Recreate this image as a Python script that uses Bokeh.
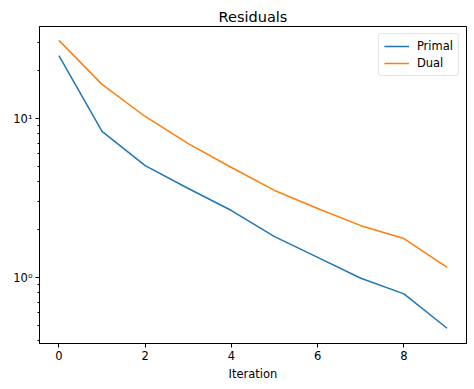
from bokeh.plotting import figure
from bokeh.models import FixedTicker, Legend, LegendItem, Range1d
from bokeh.embed import file_html
from bokeh.resources import INLINE

iterations = [0, 1, 2, 3, 4, 5, 6, 7, 8, 9]
primal = [24.9, 8.3, 5.06, 3.63, 2.64, 1.81, 1.34, 0.99, 0.79, 0.48]
dual = [31.0, 16.4, 10.3, 6.96, 4.92, 3.53, 2.72, 2.12, 1.76, 1.16]
x_ticks = [0, 2, 4, 6, 8]
y_ticks = [1, 10]
y_tick_labels = {1: "10⁰", 10: "10¹"}
y_minor = [0.4, 0.5, 0.6, 0.7, 0.8, 0.9, 2, 3, 4, 5, 6, 7, 8, 9, 20, 30]

FONT = "DejaVu Sans"

p = figure(width=474, height=389, output_backend="svg", toolbar_location=None,
           y_axis_type="log", x_range=Range1d(-0.45, 9.45), y_range=Range1d(0.385, 37.9),
           title="Residuals", min_border_left=39, min_border_right=8,
           min_border_top=26, min_border_bottom=46)
p.frame_width = 427
p.frame_height = 317

p.title.align = "center"
p.title.text_font = FONT
p.title.text_font_size = "14.5px"
p.title.text_font_style = "normal"
p.title.text_color = "black"
p.title.standoff = 4

r1 = p.line(iterations, primal, line_color="#1f77b4", line_width=1.5)
r2 = p.line(iterations, dual, line_color="#ff7f0e", line_width=1.5)

p.xgrid.visible = False
p.ygrid.visible = False
p.outline_line_color = "black"
p.outline_line_width = 1
p.background_fill_color = "white"
p.border_fill_color = "white"

p.xaxis.ticker = FixedTicker(ticks=x_ticks)
p.xaxis.axis_label = "Iteration"
p.yaxis.ticker = FixedTicker(ticks=y_ticks, minor_ticks=y_minor)
p.yaxis.major_label_overrides = y_tick_labels

for ax in (p.xaxis[0], p.yaxis[0]):
    ax.major_label_text_font = FONT
    ax.major_label_text_font_size = "11.5px"
    ax.major_label_text_color = "black"
    ax.axis_label_text_font = FONT
    ax.axis_label_text_font_size = "11.5px"
    ax.axis_label_text_font_style = "normal"
    ax.axis_label_text_color = "black"
    ax.axis_label_standoff = 4
    ax.major_tick_out = 4
    ax.major_tick_in = 0
    ax.minor_tick_out = 2
    ax.minor_tick_in = 0
    ax.axis_line_color = "black"
    ax.major_tick_line_color = "black"
    ax.minor_tick_line_color = "black"
    ax.major_label_standoff = 3
p.xaxis.minor_tick_line_color = None

legend = Legend(items=[LegendItem(label="Primal", renderers=[r1]),
                       LegendItem(label="Dual", renderers=[r2])],
                location="top_right")
legend.label_text_font = FONT
legend.label_text_font_size = "11.5px"
legend.label_text_color = "black"
legend.border_line_color = "#cccccc"
legend.border_radius = 3
legend.background_fill_alpha = 0.8
legend.glyph_width = 25
legend.glyph_height = 14
legend.label_height = 14
legend.spacing = 3
legend.padding = 5
legend.margin = 7
legend.label_standoff = 8
p.add_layout(legend)

open("out.html", "w").write(file_html(p, INLINE))
